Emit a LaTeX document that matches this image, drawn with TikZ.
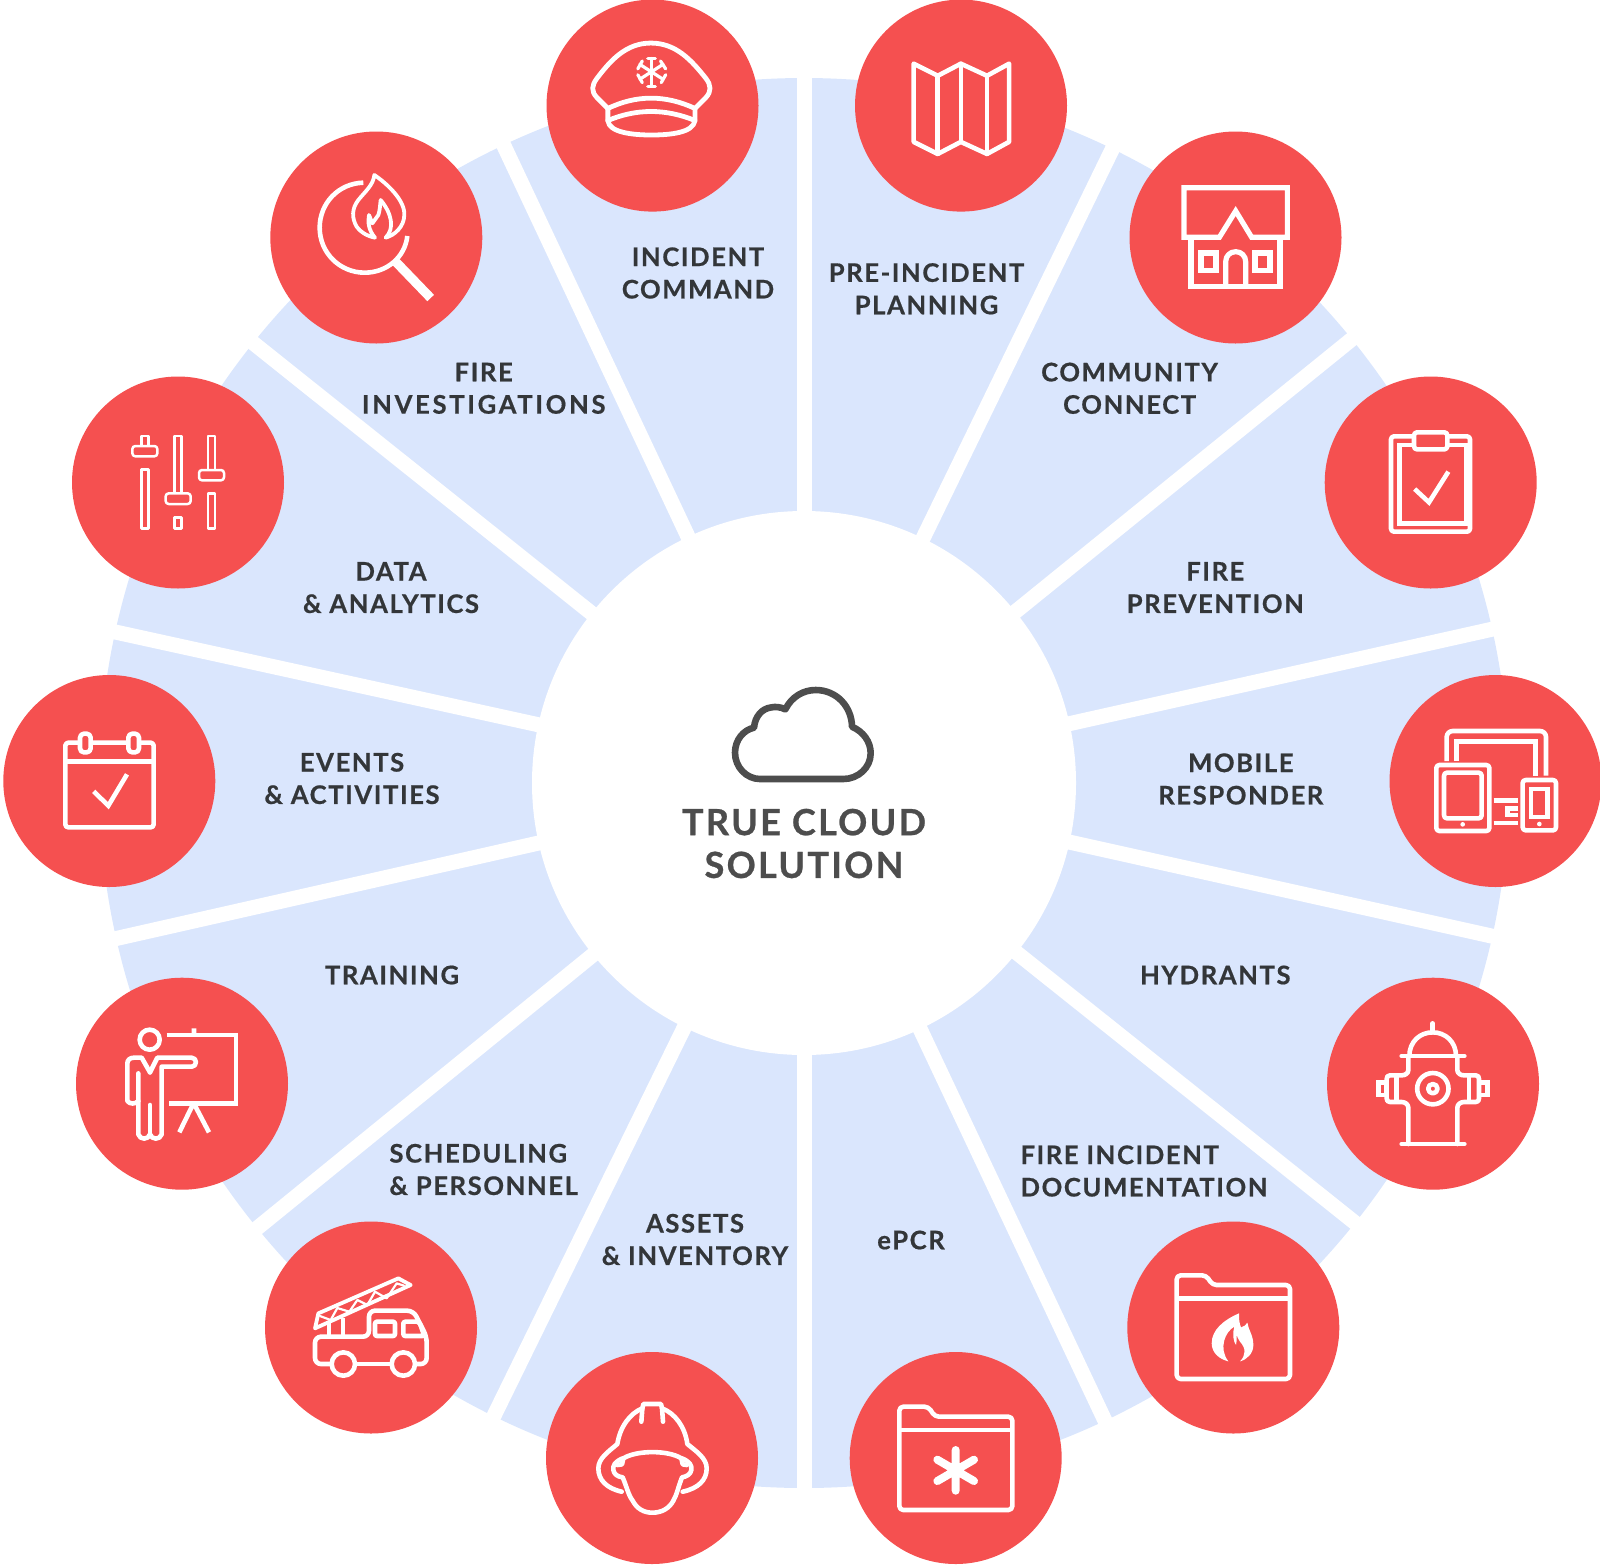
\documentclass[tikz,border=0pt]{standalone}
\usepackage{fontspec}
\setmainfont{Lato}
\newfontfamily\labfont{Lato}[LetterSpace=6.3,BoldFeatures={FakeBold=0.6}]
\newfontfamily\widelabfont{Lato}[LetterSpace=10.5,BoldFeatures={FakeBold=0.6}]
\newfontfamily\bigfont{Lato}[LetterSpace=6.4,BoldFeatures={FakeBold=0.7}]
\definecolor{wheelblue}{HTML}{DAE6FD}
\definecolor{iconred}{HTML}{F55050}
\definecolor{labink}{HTML}{333639}
\definecolor{cloudink}{HTML}{4D4D4D}
\tikzset{
  badge/.style={circle,fill=iconred,minimum size=106pt,inner sep=0},
  lab/.style={font=\labfont\bfseries\fontsize{12.8}{16.2}\selectfont,text=labink,align=center,inner sep=0},
  biglab/.style={font=\bigfont\bfseries\fontsize{18}{21.4}\selectfont,text=cloudink,align=center,inner sep=0},
  ic/.style={draw=white,line width=2.3pt,line join=round,line cap=round},
  icthin/.style={draw=white,line width=1.25pt,line join=round},
  z3/.style={x=0.16667pt,y=-0.16667pt},
  z29/.style={x=0.17219pt,y=-0.17219pt},
}
\begin{document}
\begin{tikzpicture}[x=0.5pt,y=-0.5pt]
\useasboundingbox (0,0) rectangle (1600,1564);
\coordinate (c) at (804,783);
% wheel
\fill[wheelblue] (c) circle[radius=705];
\foreach \ox/\oy in {788/77,1091/144,1325.5/331.5,1463.5/616,1462/917,1328/1198,1083/1392,788/1457,484/1387.5,253/1202.5,113.5/919.5,113/619,248.5/336,493/140.5}{
  \pgfmathsetmacro{\ex}{804+(\ox-788)*1.0204*1.06}
  \pgfmathsetmacro{\ey}{783+(\oy-767)*1.0204*1.06}
  \coordinate (gapend) at (\ex,\ey);
  \draw[white,line width=7.5pt] (c) -- (gapend);
}
\node[circle,fill=white,minimum size=272pt,inner sep=0] (hub) at (c) {};
% badges
\node[badge] (b1) at (652.5,105.6) {};
\node[badge] (b2) at (961,105.6) {};
\node[badge] (b3) at (1235.5,237.5) {};
\node[badge] (b4) at (1430.7,482.5) {};
\node[badge] (b5) at (1495.5,781) {};
\node[badge] (b6) at (1433,1083.7) {};
\node[badge] (b7) at (1233.3,1327.5) {};
\node[badge] (b8) at (955.7,1458) {};
\node[badge] (b9) at (652,1458) {};
\node[badge] (b10) at (371,1327.5) {};
\node[badge] (b11) at (182,1083.7) {};
\node[badge] (b12) at (109.3,781) {};
\node[badge] (b13) at (178,482.5) {};
\node[badge] (b14) at (376.3,237.5) {};
% labels
\node[lab] (l1) at (698,273) {INCIDENT\\COMMAND};
\node[lab] (l2) at (926.5,288.8) {PRE-INCIDENT\\PLANNING};
\node[lab] (l3) at (1129.6,388.3) {COMMUNITY\\CONNECT};
\node[lab] (l4) at (1215.3,587.6) {FIRE\\PREVENTION};
\node[lab] (l5) at (1240.8,779) {MOBILE\\RESPONDER};
\node[lab] (l6) at (1215.3,975) {HYDRANTS};
\node[lab,align=left] (l7) at (1144,1171) {FIRE INCIDENT\\DOCUMENTATION};
\node[lab] (l8) at (911,1240) {ePCR};
\node[lab] (l9) at (695,1239.5) {ASSETS\\\& INVENTORY};
\node[lab,align=left] (l10) at (483.7,1169.5) {SCHEDULING\\\& PERSONNEL};
\node[lab] (l11) at (392,975) {TRAINING};
\node[lab] (l12) at (352,778.5) {EVENTS\\\& ACTIVITIES};
\node[lab] (l13) at (391,587.6) {DATA\\\& ANALYTICS};
\node[lab] (l14) at (483.7,388.3) {FIRE\\{\widelabfont\bfseries INVESTIGATIONS}};
\node[biglab] (hubtext) at (804,843.5) {TRUE CLOUD\\SOLUTION};
% cloud
\begin{scope}[shift={(640,660)},z3]
\draw[cloudink,line width=3.3pt,line join=round] (360,357) -- (610,357) .. controls (655,357) and (692,322) .. (692,280) .. controls (692,245) and (670,215) .. (636,200) .. controls (635,140) and (590,90) .. (527,90) .. controls (490,90) and (455,110) .. (436,148) .. controls (420,140) and (405,140) .. (395,142) .. controls (365,145) and (345,170) .. (342,203) .. controls (310,210) and (285,240) .. (285,278) .. controls (285,322) and (320,357) .. (360,357) -- cycle;
\end{scope}
% hat and map
\begin{scope}[shift={(540,0)},z29]
\draw[ic,line width=2.4pt] (197,315) -- (165,283) .. controls (148,265) and (150,248) .. (165,228) .. controls (205,175) and (250,125) .. (322,125) .. controls (395,125) and (440,175) .. (482,228) .. controls (497,248) and (498,265) .. (482,283) -- (450,315);
\draw[ic,line width=2.4pt] (197,315) .. controls (280,275) and (365,275) .. (450,315) -- (450,350) .. controls (445,385) and (380,392) .. (323,392) .. controls (270,392) and (200,385) .. (197,350) -- cycle;
\draw[ic,line width=2.4pt] (197,350) .. controls (280,315) and (365,315) .. (450,350);
\draw[ic,line width=1.6pt] (323,170) -- (323,250) (313,170) -- (335,170) (313,250) -- (335,250);
\draw[ic,line width=1.6pt] (290,187) -- (357,230) (290,230) -- (357,187);
\draw[ic,line width=1.6pt] (297,177) -- (284,200) (350,177) -- (365,200) (284,217) -- (297,240) (365,217) -- (352,240);
\draw[ic] (1085,185) -- (1155,220) -- (1222,185) -- (1298,220) -- (1362,185) -- (1362,412) -- (1298,447) -- (1222,412) -- (1155,447) -- (1085,412) -- cycle;
\draw[ic] (1155,220) -- (1155,447) (1222,185) -- (1222,412) (1298,220) -- (1298,447);
\end{scope}
% house
\begin{scope}[shift={(1120,130)},z3]
\draw[ic,line width=2.6pt,line cap=butt,line join=miter] (192,173) -- (502,173) -- (502,322) -- (395,322) -- (347,243) -- (298,322) -- (192,322) -- cycle;
\draw[ic,line width=2.6pt,line cap=butt,line join=miter] (213,325) -- (213,470) -- (480,470) -- (480,325);
\draw[ic,line width=2.6pt,line cap=butt] (317,470) -- (317,395) .. controls (317,378) and (330,365) .. (347,365) .. controls (364,365) and (377,378) .. (377,395) -- (377,470);
\draw[ic,line width=2.6pt,line join=miter] (243,369) rectangle (288,422) (405,369) rectangle (450,422);
\end{scope}
% clipboard
\begin{scope}[shift={(1320,375)},z3]
\draw[ic,rounded corners=1.5pt] (213,184) rectangle (450,470);
\draw[ic,line join=miter] (239,210) rectangle (438,445);
\draw[ic,rounded corners=1.5pt,fill=iconred] (282,172) rectangle (382,223);
\draw[ic,line cap=butt,line join=miter] (284,342) -- (327,382) -- (385,290);
\end{scope}
% devices
\begin{scope}[shift={(1385,675)},z3]
\draw[ic,rounded corners=3pt,line cap=butt] (185,258) -- (185,168) -- (483,168) -- (483,302);
\draw[ic,line join=miter,line cap=butt] (214,258) -- (214,200) -- (452,200) -- (452,302);
\draw[ic,rounded corners=1.5pt] (154,270) rectangle (313,468);
\draw[ic,rounded corners=1.5pt] (177,293) rectangle (290,430);
\fill[white] (233,448) circle[radius=7];
\draw[ic,rounded corners=1.5pt] (413,315) rectangle (513,466);
\draw[ic,line join=miter] (438,342) rectangle (488,426);
\fill[white] (463,447) circle[radius=7];
\draw[ic,line cap=butt] (326,376) -- (400,376) (326,444) -- (400,444);
\draw[ic,line cap=butt,line join=miter] (400,400) -- (368,400) -- (368,420) -- (400,420);
\end{scope}
% hydrant
\begin{scope}[shift={(1325,975)},z3]
\draw[ic] (253,243) .. controls (253,200) and (285,172) .. (323,172) .. controls (361,172) and (393,200) .. (393,243);
\draw[ic] (323,145) -- (323,172) (230,243) -- (418,243) (230,507) -- (418,507);
\draw[ic] (250,246) -- (250,285) .. controls (250,295) and (240,301) .. (230,301) -- (195,301) .. controls (188,301) and (185,305) .. (185,312) -- (185,370) .. controls (185,377) and (188,381) .. (195,381) -- (230,381) .. controls (240,381) and (250,388) .. (250,398) -- (250,507);
\draw[ic] (397,246) -- (397,285) .. controls (397,295) and (407,301) .. (417,301) -- (452,301) .. controls (459,301) and (462,305) .. (462,312) -- (462,370) .. controls (462,377) and (459,381) .. (452,381) -- (417,381) .. controls (407,381) and (397,388) .. (397,398) -- (397,507);
\draw[ic,line join=miter] (160,322) rectangle (185,360) (462,322) rectangle (487,360);
\draw[ic] (215,305) -- (215,378) (432,305) -- (432,378);
\draw[ic] (323.5,341) circle[radius=47];
\draw[ic] (323.5,341) circle[radius=14];
\end{scope}
% folders, flame, asterisk
\begin{scope}[shift={(840,1220)},z3]
\draw[ic,rounded corners=2pt] (1010,477) -- (1010,166) -- (1098,166) -- (1118,195) -- (1350,195) -- (1350,477) -- cycle;
\draw[ic,line cap=butt] (1010,235) -- (1350,235);
\fill[white] (1197,280) .. controls (1197,295) and (1197,308) .. (1203,322) .. controls (1212,320) and (1218,315) .. (1222,308) .. controls (1225,330) and (1240,345) .. (1240,375) .. controls (1240,400) and (1222,418) .. (1200,424) .. controls (1218,405) and (1218,385) .. (1200,365) .. controls (1193,355) and (1192,350) .. (1190,345) .. controls (1190,358) and (1190,368) .. (1188,375) .. controls (1180,365) and (1176,340) .. (1183,320) .. controls (1155,335) and (1135,385) .. (1165,424) .. controls (1140,418) and (1115,400) .. (1115,370) .. controls (1115,330) and (1150,300) .. (1197,280) -- cycle;
\draw[ic,rounded corners=2pt] (178,870) -- (178,560) -- (265,560) -- (285,590) -- (517,590) -- (517,870) -- cycle;
\draw[ic,line cap=butt] (178,630) -- (517,630);
\draw[white,line width=4pt,line cap=round] (347,690) -- (347,812) (292,719) -- (402,783) (292,783) -- (402,719);
\end{scope}
% helmet and truck
\begin{scope}[shift={(260,1220)},z3]
\draw[ic] (1085,815) .. controls (1040,805) and (1015,780) .. (1015,745) .. controls (1015,715) and (1045,695) .. (1072,672) .. controls (1080,620) and (1110,580) .. (1147,565) -- (1150,552) -- (1203,552) -- (1206,565) .. controls (1245,580) and (1275,620) .. (1282,672) .. controls (1310,695) and (1340,715) .. (1340,745) .. controls (1340,780) and (1315,805) .. (1268,815);
\draw[ic] (1147,565) -- (1144,605) (1206,565) -- (1209,605);
\draw[ic] (1090,715) .. controls (1130,690) and (1225,690) .. (1264,715) -- (1268,733) -- (1280,735);
\draw[ic] (1090,715) -- (1086,733) -- (1072,735);
\draw[ic] (1088,715) .. controls (1065,725) and (1058,735) .. (1060,750) .. controls (1062,762) and (1072,770) .. (1088,772) .. controls (1100,800) and (1105,825) .. (1118,842) .. controls (1130,865) and (1150,878) .. (1177,878) .. controls (1205,878) and (1228,865) .. (1240,842) .. controls (1250,825) and (1255,800) .. (1266,772) .. controls (1280,770) and (1292,762) .. (1294,750) .. controls (1296,735) and (1289,725) .. (1266,715);
\draw[ic,rounded corners=3pt] (213,432) -- (165,432) -- (165,350) -- (327,350) -- (327,272) -- (460,272) -- (500,350) -- (500,432) -- (468,432);
\draw[ic] (290,432) -- (392,432);
\draw[ic] (250,432) circle[radius=35] (430,432) circle[radius=35];
\draw[ic,rounded corners=1pt] (345,305) rectangle (405,348);
\draw[ic,rounded corners=1pt] (430,305) -- (478,305) -- (493,348) -- (430,348) -- cycle;
\draw[ic,line width=1.9pt] (165,325) -- (175,280) -- (415,175) -- (452,195) -- cycle;
\draw[ic,line width=1.9pt,line cap=butt] (208,310) -- (208,350) (248,295) -- (248,350);
\draw[ic,line width=1.1pt] (180,288) -- (212,300) -- (232,264) -- (268,275) -- (292,240) -- (322,255) -- (345,215) -- (380,235) -- (410,190) -- (432,197);
\end{scope}
% training
\begin{scope}[shift={(70,975)},z3]
\draw[ic] (239,194) circle[radius=30];
\draw[ic,line cap=butt,line join=miter] (290,180) -- (498,180) -- (498,385) -- (298,385);
\draw[ic,line cap=butt] (372,160) -- (372,180) (368,390) -- (328,472) (374,390) -- (417,472);
\draw[ic] (240,292) -- (262,248) -- (365,248) .. controls (382,248) and (382,275) .. (365,275) -- (275,275) -- (275,478) .. controls (270,495) and (245,495) .. (240,478) .. controls (235,495) and (210,495) .. (205,478) -- (205,295);
\draw[ic] (240,292) -- (215,248) -- (192,248) .. controls (180,248) and (172,255) .. (172,265) -- (172,378) .. controls (180,388) and (195,388) .. (205,378);
\draw[ic] (240,478) -- (240,390);
\end{scope}
% calendar
\begin{scope}[shift={(0,675)},z3]
\draw[ic,rounded corners=1.5pt] (196,203) rectangle (461,457);
\draw[ic,line cap=butt] (196,260) -- (461,260);
\draw[ic,fill=iconred,rounded corners=2pt] (240,176) rectangle (272,232) (385,176) rectangle (417,232);
\draw[ic,line cap=butt,line join=miter] (281,349) -- (325,392) -- (381,298);
\end{scope}
% sliders
\begin{scope}[shift={(70,375)},z3]
\draw[icthin] (214,284) rectangle (235,460);
\draw[icthin,rounded corners=1.5pt] (187,213) rectangle (262,244);
\draw[icthin] (214,213) -- (214,183) -- (235,183) -- (235,213);
\draw[icthin] (314,355) -- (314,183) -- (335,183) -- (335,355);
\draw[icthin,rounded corners=1.5pt] (287,355) rectangle (362,387);
\draw[icthin] (314,427) rectangle (335,460);
\draw[icthin] (414,285) -- (414,183) -- (435,183) -- (435,285);
\draw[icthin,rounded corners=1.5pt] (387,285) rectangle (462,316);
\draw[icthin] (414,355) rectangle (435,460);
\end{scope}
% magnifier
\begin{scope}[shift={(270,130)},z3]
\draw[ic,line cap=butt] (280,158) .. controls (205,160) and (149,220) .. (149,293) .. controls (149,368) and (209,428) .. (284,428) .. controls (350,428) and (405,382) .. (412,318);
\draw[white,line width=4.6pt] (374,392) -- (482,504);
\draw[ic,line width=1.9pt] (315,323) .. controls (290,318) and (270,305) .. (260,290) .. controls (245,265) and (245,235) .. (265,210) .. controls (285,185) and (310,165) .. (313,135) .. controls (350,160) and (405,210) .. (403,255) .. controls (402,290) and (375,315) .. (347,323) .. controls (375,295) and (365,250) .. (332,210) .. controls (330,225) and (330,240) .. (325,255) -- (307,280) -- (297,255) .. controls (293,275) and (295,300) .. (315,323);
\end{scope}
\end{tikzpicture}
\end{document}
